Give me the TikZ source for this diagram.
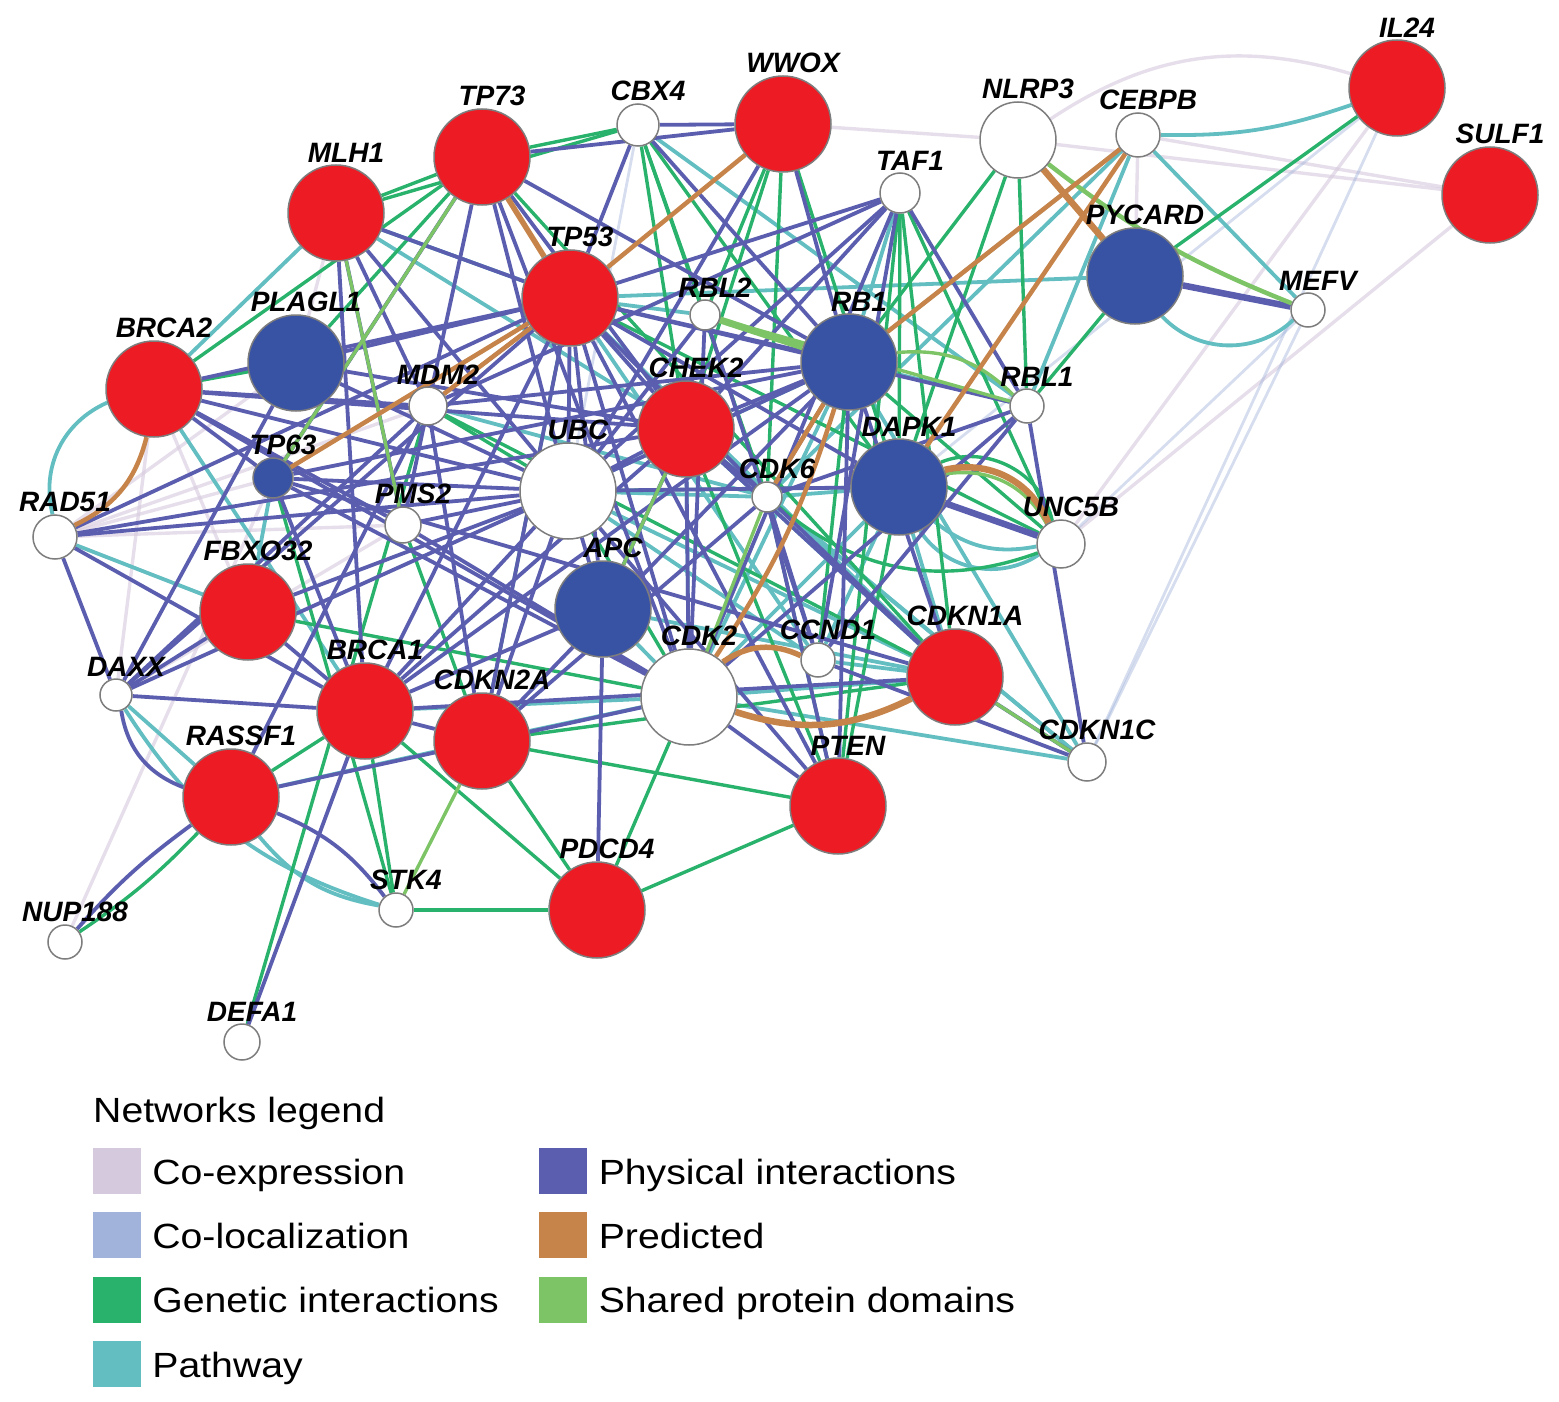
\documentclass[tikz,border=0pt]{standalone}
\usepackage{fontspec}
\setmainfont{Liberation Sans}
\newfontfamily\legendfont[FakeStretch=1.12]{Liberation Sans}
\usetikzlibrary{positioning, backgrounds}

\definecolor{genered}{RGB}{237,28,36}
\definecolor{geneblue}{RGB}{57,83,164}
\definecolor{nodeborder}{RGB}{125,125,125}
\definecolor{coexpcol}{RGB}{213,201,221}
\definecolor{coloccol}{RGB}{161,179,218}
\definecolor{geneticcol}{RGB}{41,178,108}
\definecolor{pathwaycol}{RGB}{98,190,193}
\definecolor{physcol}{RGB}{91,94,175}
\definecolor{predcol}{RGB}{199,132,74}
\definecolor{sharedcol}{RGB}{125,196,102}

\tikzstyle{red_gene} = [circle, draw=nodeborder, line width=1.5pt, fill=genered, minimum size=96pt, inner sep=0pt]
\tikzstyle{blue_gene} = [circle, draw=nodeborder, line width=1.5pt, fill=geneblue, minimum size=96pt, inner sep=0pt]
\tikzstyle{white_gene} = [circle, draw=nodeborder, line width=1.5pt, fill=white, inner sep=0pt]
\tikzstyle{gene_label} = [font=\fontsize{28}{30}\selectfont\bfseries\itshape, inner sep=2pt, xshift=10pt]
\tikzstyle{physical} = [draw=physcol, line width=3.8pt]
\tikzstyle{genetic} = [draw=geneticcol, line width=3.4pt]
\tikzstyle{pathway} = [draw=pathwaycol, line width=3.8pt]
\tikzstyle{predicted} = [draw=predcol, line width=4.5pt]
\tikzstyle{shared} = [draw=sharedcol, line width=3.4pt]
\tikzstyle{coexp} = [draw=coexpcol, line width=3.4pt, opacity=0.6]
\tikzstyle{coloc} = [draw=coloccol, line width=2.8pt, opacity=0.45]
\tikzstyle{legend_box} = [rectangle, minimum width=48pt, minimum height=46pt, inner sep=0pt]
\tikzstyle{legend_text} = [font=\fontsize{35}{38}\selectfont\legendfont, inner sep=0pt, anchor=base west]

\begin{document}
\begin{tikzpicture}[x=1pt, y=-1pt]
		\useasboundingbox (0,0) rectangle (1559,1402);

		% genes
		\node (IL24)   [red_gene, label={[gene_label]above:IL24}] at (1397,88) {};
		\node (SULF1)  [red_gene, label={[gene_label]above:SULF1}] at (1490,195) {};
		\node (WWOX)   [red_gene, label={[gene_label]above:WWOX}] at (783,124) {};
		\node (CBX4)   [white_gene, minimum size=42pt, label={[gene_label]above:CBX4}] at (638,125) {};
		\node (TP73)   [red_gene, label={[gene_label]above:TP73}] at (482,157) {};
		\node (MLH1)   [red_gene, label={[gene_label]above:MLH1}] at (336,213) {};
		\node (NLRP3)  [white_gene, minimum size=76pt, label={[gene_label]above:NLRP3}] at (1018,140) {};
		\node (CEBPB)  [white_gene, minimum size=44pt, label={[gene_label]above:CEBPB}] at (1138,135) {};
		\node (TAF1)   [white_gene, minimum size=40pt, label={[gene_label]above:TAF1}] at (900,193) {};
		\node (PYCARD) [blue_gene, label={[gene_label]above:PYCARD}] at (1135,276) {};
		\node (MEFV)   [white_gene, minimum size=34pt, label={[gene_label]above:MEFV}] at (1308,310) {};
		\node (TP53)   [red_gene, label={[gene_label]above:TP53}] at (570,298) {};
		\node (RBL2)   [white_gene, minimum size=30pt, label={[gene_label]above:RBL2}] at (705,315) {};
		\node (RB1)    [blue_gene, label={[gene_label]above:RB1}] at (849,362) {};
		\node (PLAGL1) [blue_gene, label={[gene_label]above:PLAGL1}] at (296,363) {};
		\node (BRCA2)  [red_gene, label={[gene_label]above:BRCA2}] at (154,389) {};
		\node (MDM2)   [white_gene, minimum size=38pt, label={[gene_label]above:MDM2}] at (428,406) {};
		\node (CHEK2)  [red_gene, label={[gene_label]above:CHEK2}] at (686,429) {};
		\node (RBL1)   [white_gene, minimum size=34pt, label={[gene_label]above:RBL1}] at (1027,406) {};
		\node (TP63)   [blue_gene, minimum size=40pt, label={[gene_label]above:TP63}] at (273,478) {};
		\node (UBC)    [white_gene, minimum size=96pt, label={[gene_label]above:UBC}] at (568,491) {};
		\node (CDK6)   [white_gene, minimum size=30pt, label={[gene_label]above:CDK6}] at (767,497) {};
		\node (DAPK1)  [blue_gene, label={[gene_label]above:DAPK1}] at (899,487) {};
		\node (RAD51)  [white_gene, minimum size=44pt, label={[gene_label]above:RAD51}] at (55,537) {};
		\node (PMS2)   [white_gene, minimum size=36pt, label={[gene_label]above:PMS2}] at (403,525) {};
		\node (UNC5B)  [white_gene, minimum size=48pt, label={[gene_label]above:UNC5B}] at (1061,544) {};
		\node (FBXO32) [red_gene, label={[gene_label]above:FBXO32}] at (248,612) {};
		\node (APC)    [blue_gene, label={[gene_label]above:APC}] at (603,609) {};
		\node (CCND1)  [white_gene, minimum size=34pt, label={[gene_label]above:CCND1}] at (818,660) {};
		\node (CDKN1A) [red_gene, label={[gene_label]above:CDKN1A}] at (955,677) {};
		\node (DAXX)   [white_gene, minimum size=32pt, label={[gene_label]above:DAXX}] at (116,695) {};
		\node (BRCA1)  [red_gene, label={[gene_label]above:BRCA1}] at (365,711) {};
		\node (CDK2)   [white_gene, minimum size=96pt, label={[gene_label]above:CDK2}] at (689,697) {};
		\node (CDKN2A) [red_gene, label={[gene_label]above:CDKN2A}] at (482,741) {};
		\node (RASSF1) [red_gene, label={[gene_label]above:RASSF1}] at (231,797) {};
		\node (CDKN1C) [white_gene, minimum size=38pt, label={[gene_label]above:CDKN1C}] at (1087,762) {};
		\node (PTEN)   [red_gene, label={[gene_label]above:PTEN}] at (838,806) {};
		\node (PDCD4)  [red_gene, label={[gene_label]above:PDCD4}] at (597,910) {};
		\node (STK4)   [white_gene, minimum size=34pt, label={[gene_label]above:STK4}] at (396,910) {};
		\node (NUP188) [white_gene, minimum size=34pt, label={[gene_label]above:NUP188}] at (65,942) {};
		\node (DEFA1)  [white_gene, minimum size=36pt, label={[gene_label]above:DEFA1}] at (242,1042) {};

		% interactions
		\begin{scope}[on background layer]
		\foreach \a/\b in {RAD51/PLAGL1, RAD51/MDM2, RAD51/TP63, RAD51/PMS2, BRCA2/FBXO32, BRCA2/DAXX, MLH1/PLAGL1, NUP188/TP63, SULF1/CEBPB, SULF1/NLRP3, SULF1/UNC5B, WWOX/NLRP3, IL24/UNC5B, CEBPB/PYCARD, DAXX/PMS2, RAD51/FBXO32, BRCA2/PMS2}
			\draw [coexp] (\a) -- (\b);
		\draw [coexp] (IL24) to[bend right=25] (NLRP3);
		\foreach \a/\b in {IL24/CDKN1C, MEFV/UNC5B, CBX4/UBC, MEFV/CDKN1C, IL24/DAPK1}
			\draw [coloc] (\a) -- (\b);

		\foreach \a/\b in {BRCA2/MLH1, MLH1/TP53, MLH1/CHEK2, TP53/PYCARD, CEBPB/MEFV, CEBPB/RBL1, CEBPB/RB1, CEBPB/CDK6, RAD51/FBXO32, DAXX/RASSF1, BRCA1/CDK2, CDKN2A/CDK2, RASSF1/CDKN2A, CDK2/CDKN1C, CCND1/CDKN1A, CDKN1A/DAPK1, CDK6/CDKN1C, UBC/CDK6, CDK2/RB1, CDK6/RB1, TP53/CDKN1A, CHEK2/CDKN1A, TP63/FBXO32, UBC/CCND1, CBX4/RBL1, RB1/RBL1, CHEK2/CDKN1C, RB1/CDKN1C, TP53/RBL2, TAF1/RB1, APC/CDK2, BRCA2/BRCA1, CDK2/CDKN1A, UBC/CDKN1A, UBC/RB1, CHEK2/CDK2, MDM2/CDK6, APC/CDKN1A, CDK2/DAPK1, CCND1/DAPK1, CDK6/DAPK1, TP53/CCND1}
			\draw [pathway] (\a) -- (\b);
		\draw [pathway] (BRCA2) to[bend right=40] (RAD51);
		\draw [pathway] (CEBPB) to[bend right=10] (IL24);
		\draw [pathway] (PYCARD) to[bend right=45] (MEFV);
		\draw [pathway] (DAPK1) to[bend right=25] (UNC5B);
		\draw [pathway] (DAPK1) to[bend right=45] (UNC5B);
		\draw [pathway] (RASSF1) to[bend right=20] (STK4);
		\draw [pathway] (DAXX) to[bend right=20] (STK4);

		\foreach \a/\b in {MLH1/TP73, MLH1/CBX4, TP73/CBX4, BRCA2/TP73, BRCA2/PLAGL1, WWOX/CHEK2, WWOX/DAPK1, WWOX/CDK6, WWOX/RBL2, CBX4/CDK6, CBX4/CHEK2, CBX4/DAPK1, CBX4/RBL2, NLRP3/RB1, NLRP3/DAPK1, NLRP3/RBL1, TAF1/UNC5B, TAF1/DAPK1, TAF1/CDKN1A, TAF1/PTEN, IL24/PYCARD, PYCARD/RBL1, MDM2/UBC, UBC/CDK2, BRCA1/STK4, BRCA1/RASSF1, CDKN2A/PDCD4, CDKN2A/PTEN, PDCD4/STK4, PDCD4/PTEN, PDCD4/CDK2, PTEN/CDK6, PTEN/DAPK1, DEFA1/MDM2, BRCA1/PDCD4, STK4/TP63, PMS2/CDKN2A, UBC/DAPK1, RB1/UNC5B, TP73/CDKN1A, TP53/CDKN2A, MDM2/CDKN1A, PLAGL1/TP73, CDKN2A/CDKN1A, FBXO32/CDK2, CHEK2/PTEN, TP53/UNC5B, RB1/CCND1}
			\draw [genetic] (\a) -- (\b);
		\draw [genetic] (RASSF1) to[bend left=6] (NUP188);
		\draw [genetic] (DAPK1) to[bend left=50] (UNC5B);
		\draw [genetic] (CDK6) to[bend right=30] (UNC5B);

		\foreach \a/\b in {TP73/WWOX, CBX4/WWOX, TP73/MDM2, TP73/UBC, TP73/TP63, TP73/RB1, TP73/CDK2, TP73/CHEK2, MLH1/PMS2, MLH1/MDM2, MLH1/UBC, MLH1/BRCA1, MLH1/TP53, BRCA2/TP53, BRCA2/MDM2, BRCA2/UBC, BRCA2/CHEK2, BRCA2/CDK2, BRCA2/PMS2, BRCA2/TP63, PLAGL1/TP53, PLAGL1/UBC, PLAGL1/CHEK2, TP63/UBC, TP63/BRCA1, TP63/CDK2, TP63/RB1, TP63/CDKN1A, RAD51/BRCA1, RAD51/TP53, RAD51/UBC, RAD51/CHEK2, DAXX/TP53, DAXX/MDM2, DAXX/UBC, DAXX/FBXO32, DAXX/BRCA1, FBXO32/UBC, FBXO32/BRCA1, BRCA1/UBC, BRCA1/TP53, BRCA1/CHEK2, BRCA1/CDKN1A, BRCA1/DEFA1, BRCA1/RB1, BRCA1/APC, BRCA1/CDKN2A, CDKN2A/MDM2, CDKN2A/CDK6, CDKN2A/TP53, CDKN2A/UBC, CDKN2A/RB1, RASSF1/MDM2, RASSF1/CDK2, APC/UBC, APC/PDCD4, APC/TP53, APC/CHEK2, TP53/MDM2, TP53/UBC, TP53/CHEK2, TP53/CDK2, TP53/RB1, TP53/TAF1, TP53/PTEN, TP53/DAPK1, TP53/CDK6, TP53/RBL1, TP53/CBX4, CBX4/RB1, WWOX/RB1, WWOX/UBC, TAF1/UBC, TAF1/CDK2, TAF1/RBL1, TAF1/MDM2, TAF1/CHEK2, TAF1/CCND1, RB1/UBC, RB1/CDK6, RB1/CDKN1A, RB1/CHEK2, RB1/MDM2, RB1/PTEN, RBL2/CDK2, RBL2/CCND1, RBL2/UBC, RBL1/CDK2, RBL1/CDKN1C, RBL1/CCND1, RBL1/CDK6, DAPK1/UBC, CDK2/CHEK2, CDK2/PTEN, CDK6/CCND1, CDK6/CDKN1A, CDK6/PTEN, CCND1/CDKN1C, CDKN1A/CDKN1C, CDKN1A/CHEK2, PTEN/UBC, CHEK2/UBC, CHEK2/CDK6, PMS2/UBC, PMS2/CDK2, PMS2/MDM2, DAXX/PLAGL1, DAXX/RAD51}
			\draw [physical] (\a) -- (\b);
		\draw [physical] (RASSF1) to[bend right=6] (NUP188);
		\draw [physical] (DAXX) to[bend right=30] (RASSF1);
		\draw [physical] (RASSF1) to[bend left=15] (STK4);
		\draw [physical, line width=6.5pt] (DAPK1) -- (UNC5B);
		\draw [physical, line width=6.5pt] (PYCARD) -- (MEFV);

		\foreach \a/\b in {TP73/TP63, TP53/TP63, MLH1/PMS2, RBL2/RBL1, NLRP3/PYCARD, CDKN1A/CDKN1C, CDK2/CDK6, CDKN2A/STK4, APC/CHEK2}
			\draw [shared] (\a) -- (\b);
		\draw [shared, line width=7pt] (RBL2) -- (RB1);
		\draw [shared] (RB1) to[bend left=25] (RBL1);
		\draw [shared, line width=4.5pt] (NLRP3) to[bend right=8] (MEFV);
		\draw [shared] (DAPK1) to[bend left=35] (UNC5B);

		\foreach \a/\b in {TP53/WWOX, MDM2/TP53, TP63/TP53, CEBPB/RB1, CEBPB/DAPK1, CDK6/RB1}
			\draw [predicted] (\a) -- (\b);
		\draw [predicted, line width=5.5pt] (TP73) -- (TP53);
		\draw [predicted, line width=6.5pt] (NLRP3) -- (PYCARD);
		\draw [predicted] (BRCA2) to[bend left=25] (RAD51);
		\draw [predicted] (RB1) to[bend left=8] (CDK2);
		\draw [predicted, line width=6.5pt] (DAPK1) to[bend left=40] (UNC5B);
		\draw [predicted, line width=5.5pt] (CDK2) to[bend left=30] (CCND1);
		\draw [predicted, line width=6.5pt] (CDK2) to[bend right=22] (CDKN1A);
		\end{scope}

		% legend
		\node (leg_title) [legend_text] at (93,1122) {Networks legend};
		\node (leg_coexp) [legend_box, fill=coexpcol] at (117,1171) {};
		\node (leg_coloc) [legend_box, fill=coloccol, below=18pt of leg_coexp] {};
		\node (leg_genetic) [legend_box, fill=geneticcol, below=18pt of leg_coloc] {};
		\node (leg_pathway) [legend_box, fill=pathwaycol, below=18pt of leg_genetic] {};
		\node (leg_phys) [legend_box, fill=physcol, right=398pt of leg_coexp] {};
		\node (leg_pred) [legend_box, fill=predcol, below=18pt of leg_phys] {};
		\node (leg_shared) [legend_box, fill=sharedcol, below=18pt of leg_pred] {};
		\node [legend_text] at ([xshift=11pt, yshift=-13pt]leg_coexp.east) {Co-expression};
		\node [legend_text] at ([xshift=11pt, yshift=-13pt]leg_coloc.east) {Co-localization};
		\node [legend_text] at ([xshift=11pt, yshift=-13pt]leg_genetic.east) {Genetic interactions};
		\node [legend_text] at ([xshift=11pt, yshift=-13pt]leg_pathway.east) {Pathway};
		\node [legend_text] at ([xshift=11pt, yshift=-13pt]leg_phys.east) {Physical interactions};
		\node [legend_text] at ([xshift=11pt, yshift=-13pt]leg_pred.east) {Predicted};
		\node [legend_text] at ([xshift=11pt, yshift=-13pt]leg_shared.east) {Shared protein domains};

\end{tikzpicture}
\end{document}
